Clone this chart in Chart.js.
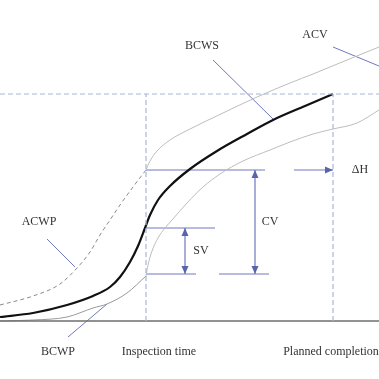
<!DOCTYPE html>
<html>
<head>
<meta charset="utf-8">
<script src="https://cdn.jsdelivr.net/npm/chart.js@4.4.1/dist/chart.umd.min.js"></script>
<style>
  html, body { margin: 0; padding: 0; background: #ffffff; }
  #wrap { width: 379px; height: 379px; position: relative; }
</style>
</head>
<body>
<div id="wrap"><canvas id="c"></canvas></div>
<script>
// ---- Data (x: time units, y: cost units above the time axis) ----
const bcwsX = [0, 33, 67, 93, 110, 120, 130, 138, 145, 150, 158, 170, 190, 217, 247, 273, 305, 333];
const bcwsY = [4, 8, 16, 25, 34, 44, 59, 75, 93, 106, 121, 135, 152, 170, 187, 201, 215, 227];

const acwpX = [0, 33, 60, 77, 90, 100, 110, 120, 133, 146];
const acwpY = [16, 25, 37, 53, 69, 86, 101, 116, 134, 151];

const acwpForecastX = [146, 150, 157, 170, 190, 223, 257, 290, 313, 347, 379];
const acwpForecastY = [151, 160, 170, 181, 192, 208, 224, 238, 247, 261, 274];

const bcwpX = [0, 33, 67, 93, 107, 127, 146];
const bcwpY = [0, 1, 4, 13, 17, 28, 45];

const bcwpForecastX = [146, 148, 152, 158, 165, 172, 187, 203, 220, 243, 270, 290, 313, 333, 357, 379];
const bcwpForecastY = [45, 56, 70, 83, 93, 101, 118, 134, 147, 160, 171, 179, 187, 192, 198, 211];

const inspectionTime = 146;
const plannedCompletion = 333;
const plannedBudget = 227;

const svTop = 93, svBottom = 47;
const cvTop = 151, cvBottom = 47;

const xAxisLabels = ["Inspection time", "Planned completion"];
const seriesNames = ["BCWS", "ACWP", "BCWP", "ACV", "SV", "CV", "ΔH"];

// ---- helpers ----
const pts = (xs, ys) => xs.map((x, i) => ({ x: x, y: ys[i] }));
const seg = (x1, y1, x2, y2) => [{ x: x1, y: y1 }, { x: x2, y: y2 }];

const BLUE = '#7079bf';
const DASHBLUE = '#a9b5d9';
const LIGHTGRAY = '#bdbdbd';

function curve(data, color, width, dash) {
  return { data, borderColor: color, borderWidth: width, borderDash: dash || [],
           showLine: true, pointRadius: 0, cubicInterpolationMode: 'monotone', fill: false };
}
function line(data, color, width, dash, arrow) {
  return { data, borderColor: color, borderWidth: width, borderDash: dash || [],
           showLine: true, pointRadius: 0, tension: 0, fill: false, arrow: arrow || null };
}

const datasets = [
  // reference dashed lines
  line(seg(0, plannedBudget, 379, plannedBudget), DASHBLUE, 1.2, [5, 3]),
  line(seg(inspectionTime, 0, inspectionTime, plannedBudget), DASHBLUE, 1.2, [5, 3]),
  line(seg(plannedCompletion, 0, plannedCompletion, plannedBudget), DASHBLUE, 1.2, [5, 3]),
  // time axis
  line(seg(0, 0, 379, 0), '#6e6e6e', 1.5),
  // curves
  curve(pts(acwpForecastX, acwpForecastY), LIGHTGRAY, 1),
  curve(pts(bcwpForecastX, bcwpForecastY), LIGHTGRAY, 1),
  curve(pts(bcwpX, bcwpY), '#9a9a9a', 1),
  curve(pts(acwpX, acwpY), '#8a8a8a', 1, [4, 3]),
  curve(pts(bcwsX, bcwsY), '#111111', 2.2),
  // annotation lines
  line(seg(inspectionTime, cvTop, 265, cvTop), BLUE, 1.2),
  line(seg(inspectionTime, svTop, 215, svTop), BLUE, 1.2),
  line(seg(inspectionTime, svBottom, 196, svBottom), BLUE, 1.2),
  line(seg(219, cvBottom, 269, cvBottom), BLUE, 1.2),
  line(seg(185, svTop, 185, svBottom), BLUE, 1.2, [], 'both'),
  line(seg(255, cvTop, 255, cvBottom), BLUE, 1.2, [], 'both'),
  line(seg(294, cvTop, plannedCompletion, cvTop), BLUE, 1.2, [], 'end'),
  // leader lines
  line(seg(213, 261, 273, 202), BLUE, 1),
  line(seg(333, 274, 379, 255), BLUE, 1),
  line(seg(47, 82, 75, 54), BLUE, 1),
  line(seg(68, -16, 107, 17), BLUE, 1)
];

const labels = [
  { text: seriesNames[0], x: 202, y: 275 },
  { text: seriesNames[3], x: 315, y: 286 },
  { text: seriesNames[6], x: 360, y: 151 },
  { text: seriesNames[5], x: 270, y: 99 },
  { text: seriesNames[4], x: 201, y: 70 },
  { text: seriesNames[1], x: 39, y: 99 },
  { text: seriesNames[2], x: 58, y: -31 },
  { text: xAxisLabels[0], x: 159, y: -31 },
  { text: xAxisLabels[1], x: 331, y: -31 }
];

const annotate = {
  id: 'annotate',
  afterDatasetsDraw(chart) {
    const ctx = chart.ctx;
    const xs = chart.scales.x, ys = chart.scales.y;
    // arrowheads
    chart.data.datasets.forEach((ds) => {
      if (!ds.arrow) return;
      const p = ds.data.map(d => ({ x: xs.getPixelForValue(d.x), y: ys.getPixelForValue(d.y) }));
      const head = (tip, from) => {
        const ang = Math.atan2(tip.y - from.y, tip.x - from.x);
        const L = 8, W = 3.5;
        ctx.save();
        ctx.translate(tip.x, tip.y);
        ctx.rotate(ang);
        ctx.beginPath();
        ctx.moveTo(0, 0);
        ctx.lineTo(-L, -W);
        ctx.lineTo(-L, W);
        ctx.closePath();
        ctx.fillStyle = '#5a64ad';
        ctx.fill();
        ctx.restore();
      };
      head(p[1], p[0]);
      if (ds.arrow === 'both') head(p[0], p[1]);
    });
    // text
    ctx.save();
    ctx.font = '12px "Liberation Serif", "DejaVu Serif", serif';
    ctx.fillStyle = '#333333';
    ctx.textAlign = 'center';
    ctx.textBaseline = 'middle';
    labels.forEach(l => ctx.fillText(l.text, xs.getPixelForValue(l.x), ys.getPixelForValue(l.y)));
    ctx.restore();
  }
};

new Chart(document.getElementById('c'), {
  type: 'scatter',
  data: { datasets },
  options: {
    responsive: true,
    maintainAspectRatio: false,
    animation: false,
    layout: { padding: 0 },
    plugins: { legend: { display: false }, tooltip: { enabled: false } },
    scales: {
      x: { type: 'linear', min: 0, max: 379, display: false },
      y: { type: 'linear', min: -58, max: 321, display: false }
    }
  },
  plugins: [annotate]
});
</script>
</body>
</html>
